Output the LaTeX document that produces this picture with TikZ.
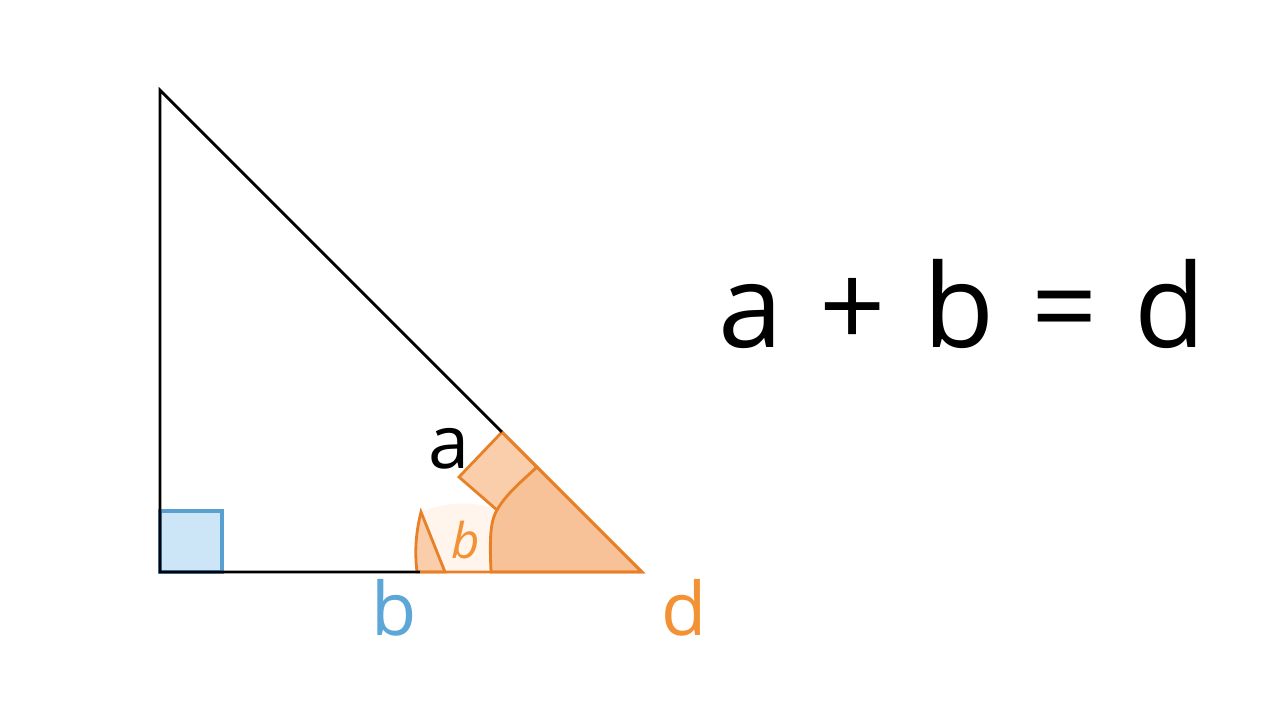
\documentclass[tikz,border=0pt]{standalone}
\usepackage{fontspec}
\setmainfont{Open Sans}
\usepackage{xcolor}
\usepackage{tikz}
\usetikzlibrary{calc}
\definecolor{angOrange}{RGB}{232,128,40}
\definecolor{angFill}{RGB}{250,206,170}
\definecolor{angFillDark}{RGB}{248,194,152}
\definecolor{angFaint}{RGB}{255,245,237}
\definecolor{rtBlue}{RGB}{88,160,210}
\definecolor{rtFill}{RGB}{204,230,248}
\definecolor{lblBlue}{RGB}{92,166,216}
\definecolor{lblOrange}{RGB}{242,146,52}
\tikzset{
  side/.style={line width=0.8pt, black},
  angside/.style={line width=0.8pt, angOrange},
  biglabel/.style={inner sep=0, anchor=base, font=\fontsize{21}{25}\selectfont}
}

\begin{document}
\begin{tikzpicture}[x=0.01cm, y=-0.01cm]

  \useasboundingbox (0,0) rectangle (1280,720);

  \coordinate (A) at (160,90);
  \coordinate (B) at (160,572);
  \coordinate (D) at (642,572);
  \coordinate (P) at (502,432);
  \coordinate (Q) at (420,572);
  \coordinate (H) at (537,467);
  \coordinate (K) at (497,510);
  \coordinate (E) at (491,572);

  % right angle mark
  \filldraw[draw=rtBlue, fill=rtFill, line width=1.4pt] (B) rectangle (222,511);

  % trace of angle b while it turns
  \fill[angFaint] (421,512) .. controls (450,500) and (480,502) .. (K)
    .. controls (489,523) and (490,546) .. (E) -- (445,572) -- cycle;

  % angle a, moved up to the hypotenuse
  \filldraw[draw=angOrange, fill=angFill, line width=0.8pt] (P) -- (459,477) -- (K) -- (H) -- cycle;
  % angle d
  \filldraw[draw=angOrange, fill=angFillDark, line width=0.8pt] (D) -- (H)
    .. controls (522,481) and (506,494) .. (K)
    .. controls (489,523) and (490,546) .. (E) -- cycle;
  % angle b, turning
  \filldraw[draw=angOrange, fill=angFill, line width=0.8pt] (417,572) .. controls (414,548) and (417,528) .. (421,512) -- (445,572) -- cycle;

  \draw[side] (Q) -- (B) -- (A) -- (P);
  \draw[angside] (P) -- (D) -- (Q);

  \node[biglabel] (la) at (449,468) {a};
  \node[inner sep=0, anchor=base, font=\fontsize{14}{16}\itshape, text=lblOrange] (lb) at (466,558) {b};
  \node[biglabel, text=lblBlue] (sb) at (394,635) {b};
  \node[biglabel, text=lblOrange] (sd) at (684,635) {d};

  \node[inner sep=0, anchor=base, font=\fontsize{33}{40}\selectfont] (eq) at (962,347)
    {a\hspace{10.5pt}+\hspace{10.5pt}b\hspace{10.5pt}=\hspace{10.5pt}d};

\end{tikzpicture}
\end{document}
